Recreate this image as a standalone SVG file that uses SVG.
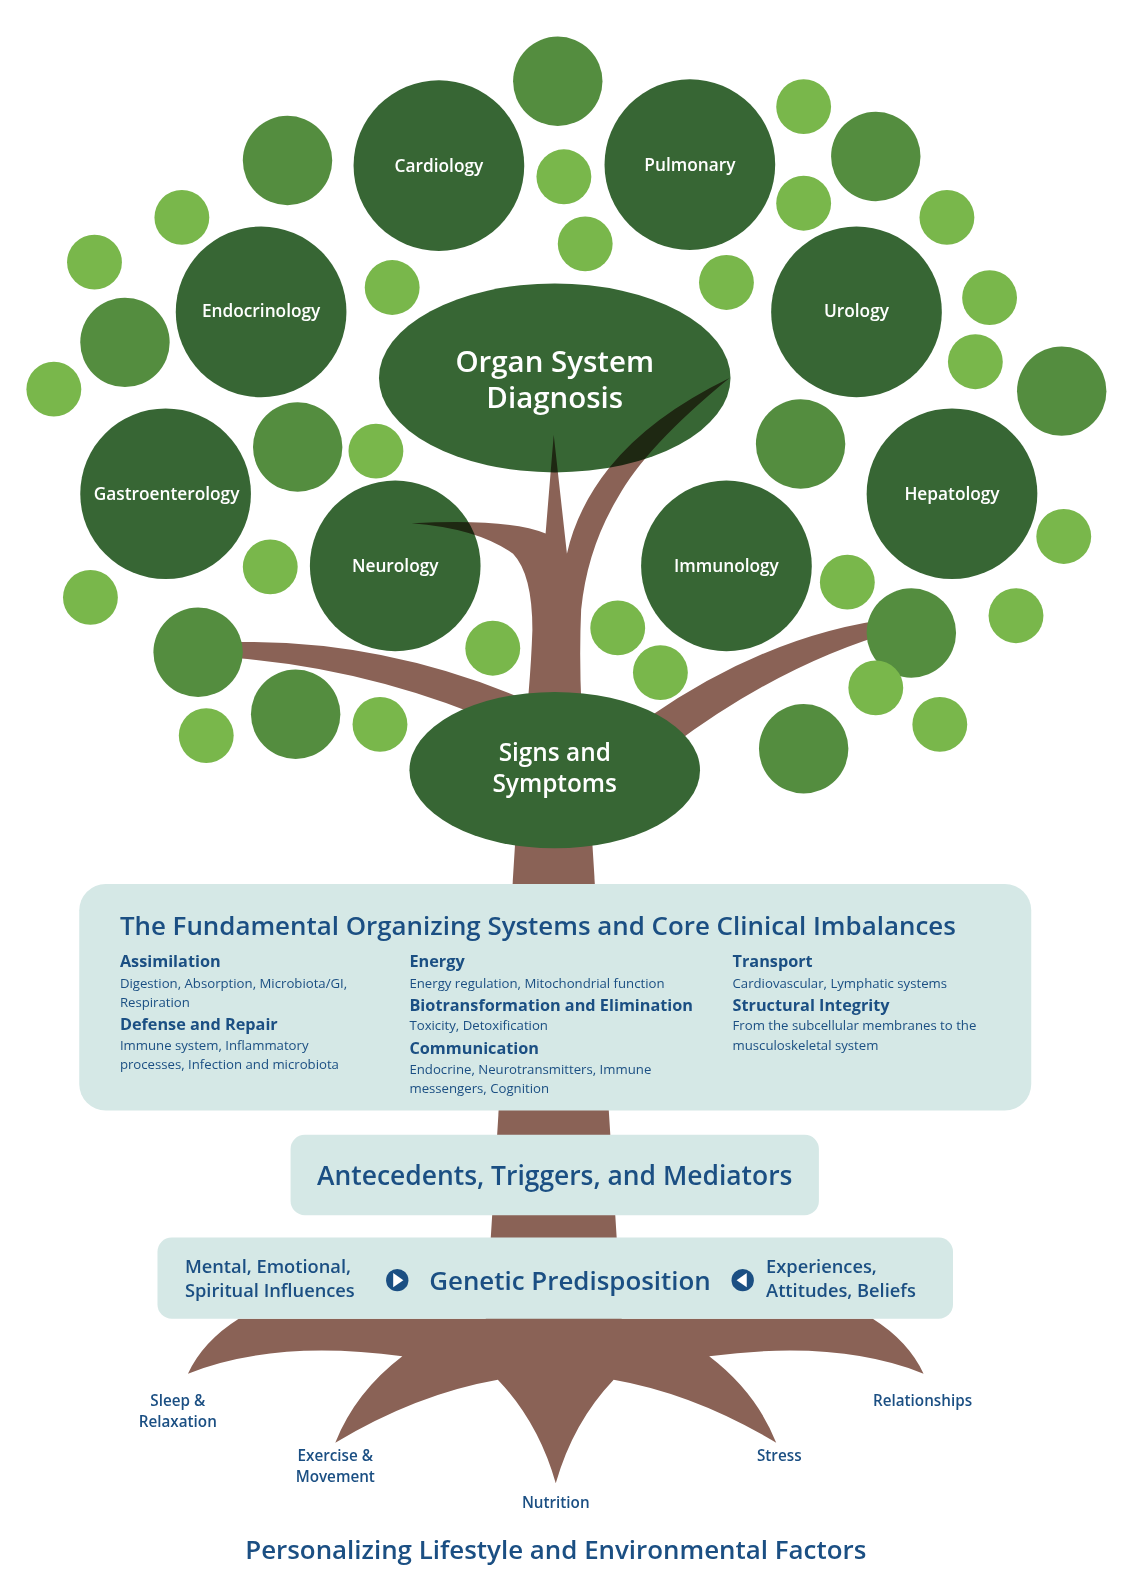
<svg xmlns="http://www.w3.org/2000/svg" width="1131" height="1591" viewBox="0 0 1131 1591">
<style>
.d{fill:#376634}.m{fill:#548d3f}.l{fill:#79b74b}.br{fill:#8a6256}
.bm{fill:#8a6256;mix-blend-mode:multiply}
.box{fill:#d5e8e6}
.w{fill:#fff;font-family:"Open Sans",Lato,sans-serif;font-weight:600;text-anchor:middle}
.b{fill:#1b4f83;font-family:"Open Sans",Lato,sans-serif}
.h{font-weight:700;font-size:16px}
.s{font-size:13px}
.c{text-anchor:middle}
</style>
<rect width="1131" height="1591" fill="#fff"/>
<g transform="scale(1.016)">
<g id="trunk-lower">
<path class="br" d="M507,830 L583,830 L612,1300 L478,1300 Z"/>
<path class="br" d="M235,1298 Q200,1320 185,1352 Q270,1318 396,1335 Q350,1370 330,1420 Q410,1372 490,1358 Q530,1400 547,1460 Q564,1400 604,1358 Q684,1372 764,1420 Q744,1370 698,1335 Q824,1318 909,1352 Q894,1320 859,1298 Z"/>
</g>
<g id="organ"><ellipse class="d" cx="546" cy="372" rx="173" ry="93"/></g>
<g id="neurology"><circle class="d" cx="389" cy="557" r="84"/></g>
<g id="cardiology"><circle class="d" cx="432" cy="163" r="84"/></g>
<g id="pulmonary"><circle class="d" cx="679" cy="162" r="84"/></g>
<g id="endocrinology"><circle class="d" cx="257" cy="307" r="84"/></g>
<g id="urology"><circle class="d" cx="843" cy="307" r="84"/></g>
<g id="gastro"><circle class="d" cx="163" cy="486" r="84"/></g>
<g id="hepatology"><circle class="d" cx="937" cy="486" r="84"/></g>
<g id="immunology"><circle class="d" cx="715" cy="557" r="84"/></g>
<g id="connectors">
<path class="bm" d="M508,800 L512,760 Q522,680 524,620 Q524,565 505,545 Q470,520 405,515 Q500,510 537,525 L545,428 L558,545 Q568,500 600,460 Q640,410 718,372 Q635,440 608,490 Q578,540 572,600 Q568,690 581,800 Z"/>
<path class="bm" d="M235,632 Q380,630 520,690 L520,725 Q380,660 235,648 Z"/>
<path class="bm" d="M885,608 Q760,622 640,705 L660,735 Q770,652 885,620 Z"/>
</g>
<g id="leaves">
<circle class="m" cx="549" cy="80" r="44"/><circle class="m" cx="283" cy="158" r="44"/><circle class="m" cx="862" cy="154" r="44"/><circle class="m" cx="123" cy="337" r="44"/><circle class="m" cx="1045" cy="385" r="44"/><circle class="m" cx="293" cy="440" r="44"/><circle class="m" cx="788" cy="437" r="44"/><circle class="m" cx="195" cy="642" r="44"/><circle class="m" cx="291" cy="703" r="44"/><circle class="m" cx="897" cy="623" r="44"/><circle class="m" cx="791" cy="737" r="44"/>
<circle class="l" cx="791" cy="105" r="27"/><circle class="l" cx="179" cy="214" r="27"/><circle class="l" cx="555" cy="174" r="27"/><circle class="l" cx="791" cy="200" r="27"/><circle class="l" cx="932" cy="214" r="27"/><circle class="l" cx="93" cy="258" r="27"/><circle class="l" cx="576" cy="240" r="27"/><circle class="l" cx="386" cy="283" r="27"/><circle class="l" cx="715" cy="278" r="27"/><circle class="l" cx="974" cy="293" r="27"/><circle class="l" cx="53" cy="383" r="27"/><circle class="l" cx="960" cy="356" r="27"/><circle class="l" cx="370" cy="444" r="27"/><circle class="l" cx="266" cy="558" r="27"/><circle class="l" cx="1047" cy="528" r="27"/><circle class="l" cx="89" cy="588" r="27"/><circle class="l" cx="834" cy="573" r="27"/><circle class="l" cx="485" cy="638" r="27"/><circle class="l" cx="608" cy="618" r="27"/><circle class="l" cx="650" cy="662" r="27"/><circle class="l" cx="1000" cy="606" r="27"/><circle class="l" cx="862" cy="677" r="27"/><circle class="l" cx="203" cy="724" r="27"/><circle class="l" cx="374" cy="713" r="27"/><circle class="l" cx="925" cy="713" r="27"/>
</g>
<g id="signs"><ellipse class="d" cx="546" cy="758" rx="143" ry="77"/>
<text class="w" x="546" y="749" font-size="24">Signs and</text><text class="w" x="546" y="780" font-size="24">Symptoms</text></g>
<g id="labels">
<text class="w" x="546" y="366" font-size="29">Organ System</text><text class="w" x="546" y="402" font-size="29">Diagnosis</text>
<text class="w" x="432" y="169" font-size="17">Cardiology</text>
<text class="w" x="679" y="168" font-size="17">Pulmonary</text>
<text class="w" x="257" y="312" font-size="17">Endocrinology</text>
<text class="w" x="843" y="312" font-size="17">Urology</text>
<text class="w" x="164" y="492" font-size="17">Gastroenterology</text>
<text class="w" x="937" y="492" font-size="17">Hepatology</text>
<text class="w" x="389" y="563" font-size="17">Neurology</text>
<text class="w" x="715" y="563" font-size="17">Immunology</text>
</g>
<g id="systems">
<rect class="box" x="78" y="870" width="937" height="223" rx="26"/>
<text class="b" x="118" y="920" font-size="25.5" font-weight="600">The Fundamental Organizing Systems and Core Clinical Imbalances</text>
<text class="b h" x="118" y="952">Assimilation</text>
<text class="b s" x="118" y="972">Digestion, Absorption, Microbiota/GI,</text>
<text class="b s" x="118" y="991">Respiration</text>
<text class="b h" x="118" y="1014">Defense and Repair</text>
<text class="b s" x="118" y="1033">Immune system, Inflammatory</text>
<text class="b s" x="118" y="1052">processes, Infection and microbiota</text>
<text class="b h" x="403" y="952">Energy</text>
<text class="b s" x="403" y="972">Energy regulation, Mitochondrial function</text>
<text class="b h" x="403" y="995">Biotransformation and Elimination</text>
<text class="b s" x="403" y="1014">Toxicity, Detoxification</text>
<text class="b h" x="403" y="1037">Communication</text>
<text class="b s" x="403" y="1057">Endocrine, Neurotransmitters, Immune</text>
<text class="b s" x="403" y="1076">messengers, Cognition</text>
<text class="b h" x="721" y="952">Transport</text>
<text class="b s" x="721" y="972">Cardiovascular, Lymphatic systems</text>
<text class="b h" x="721" y="995">Structural Integrity</text>
<text class="b s" x="721" y="1014">From the subcellular membranes to the</text>
<text class="b s" x="721" y="1033">musculoskeletal system</text>
</g>
<g id="antecedents">
<rect class="box" x="286" y="1117" width="520" height="79" rx="14"/>
<text class="b c" x="546" y="1166" font-size="26" font-weight="600">Antecedents, Triggers, and Mediators</text>
</g>
<g id="genetic">
<rect class="box" x="155" y="1218" width="783" height="80" rx="14"/>
<text class="b" x="182" y="1253" font-size="18" font-weight="600">Mental, Emotional,</text>
<text class="b" x="182" y="1277" font-size="18" font-weight="600">Spiritual Influences</text>
<circle cx="391" cy="1260" r="11" fill="#1b4f83"/><path d="M387,1253 L397,1260 L387,1267 Z" fill="#fff"/>
<text class="b c" x="561" y="1270" font-size="25.5" font-weight="600">Genetic Predisposition</text>
<circle cx="731" cy="1260" r="11" fill="#1b4f83"/><path d="M735,1253 L725,1260 L735,1267 Z" fill="#fff"/>
<text class="b" x="754" y="1253" font-size="18" font-weight="600">Experiences,</text>
<text class="b" x="754" y="1277" font-size="18" font-weight="600">Attitudes, Beliefs</text>
</g>
<g id="roots-labels" font-size="15" font-weight="600">
<text class="b c" x="175" y="1384">Sleep &amp;</text><text class="b c" x="175" y="1405">Relaxation</text>
<text class="b c" x="330" y="1438">Exercise &amp;</text><text class="b c" x="330" y="1459">Movement</text>
<text class="b c" x="547" y="1484">Nutrition</text>
<text class="b c" x="767" y="1438">Stress</text>
<text class="b c" x="908" y="1384">Relationships</text>
</g>
<text class="b c" x="547" y="1534" font-size="25.5" font-weight="600">Personalizing Lifestyle and Environmental Factors</text>
</g>
</svg>
